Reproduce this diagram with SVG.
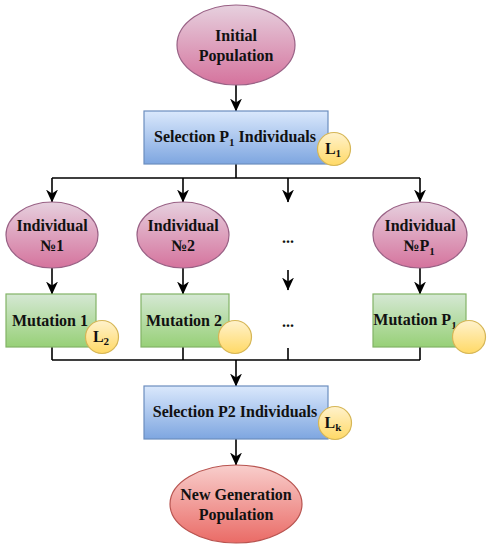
<svg xmlns="http://www.w3.org/2000/svg" width="491" height="550" viewBox="0 0 491 550">
<defs>
<linearGradient id="gPink" x1="0" y1="0" x2="0" y2="1"><stop offset="0" stop-color="#e6d0de"/><stop offset="1" stop-color="#d5739d"/></linearGradient>
<linearGradient id="gBlue" x1="0" y1="0" x2="0" y2="1"><stop offset="0" stop-color="#dae8fc"/><stop offset="1" stop-color="#7ea6e0"/></linearGradient>
<linearGradient id="gGreen" x1="0" y1="0" x2="0" y2="1"><stop offset="0" stop-color="#d5e8d4"/><stop offset="1" stop-color="#97d077"/></linearGradient>
<linearGradient id="gYellow" x1="0" y1="0" x2="0" y2="1"><stop offset="0" stop-color="#fff2cc"/><stop offset="1" stop-color="#ffd966"/></linearGradient>
<linearGradient id="gRed" x1="0" y1="0" x2="0" y2="1"><stop offset="0" stop-color="#f8cecc"/><stop offset="1" stop-color="#ea6b66"/></linearGradient>
<marker id="arr" viewBox="0 0 13 12" refX="12.5" refY="6" markerWidth="13" markerHeight="12" markerUnits="userSpaceOnUse" orient="auto">
<path d="M0,0 L13,6 L0,12 L4,6 Z" fill="#000"/>
</marker>
</defs>
<style>
.pink{fill:url(#gPink);stroke:#996185;stroke-width:1.2}
.blue{fill:url(#gBlue);stroke:#6c8ebf;stroke-width:1.2}
.green{fill:url(#gGreen);stroke:#82b366;stroke-width:1.2}
.yel{fill:url(#gYellow);stroke:#d6b656;stroke-width:1.2}
.red{fill:url(#gRed);stroke:#b85450;stroke-width:1.2}
text{font-family:'Liberation Serif','DejaVu Serif',serif;font-weight:bold;font-size:16px;fill:#111;text-anchor:middle}
.sub{font-size:11px}
.ln{fill:none;stroke:#000;stroke-width:1.6}
.ar{fill:none;stroke:#000;stroke-width:1.6;marker-end:url(#arr)}
</style>
<rect width="491" height="550" fill="#fff"/>
<g id="connectors">
<path class="ar" d="M236,85 V111"/>
<path class="ln" d="M236,164 V178 M52,178 H420"/>
<path class="ar" d="M52,178 V202"/>
<path class="ar" d="M183,178 V202"/>
<path class="ar" d="M288,178 V202"/>
<path class="ar" d="M420,178 V202"/>
<path class="ar" d="M52,268 V294"/>
<path class="ar" d="M183,268 V294"/>
<path class="ar" d="M288,270 V290"/>
<path class="ar" d="M420,268 V294"/>
<path class="ln" d="M52,347 V360 M183,347 V360 M288,348 V360 M420,347 V360 M52,360 H420"/>
<path class="ar" d="M236,360 V386"/>
<path class="ar" d="M236,439 V465"/>
</g>
<g id="initial">
<ellipse class="pink" cx="236" cy="45" rx="59" ry="40"/>
<text x="236" y="41" font-family="Liberation Serif, serif">Initial</text>
<text x="236" y="61" font-family="Liberation Serif, serif">Population</text>
</g>
<g id="selection1">
<rect class="blue" x="144" y="111" width="184" height="53"/>
<text x="235" y="142" font-family="Liberation Serif, serif">Selection P<tspan class="sub" dy="4">1</tspan><tspan dy="-4"> Individuals</tspan></text>
<circle class="yel" cx="334" cy="149" r="16.5"/>
<text x="333" y="154" font-family="Liberation Serif, serif">L<tspan class="sub" dy="3">1</tspan></text>
</g>
<g id="ind1">
<ellipse class="pink" cx="52" cy="235" rx="46" ry="33"/>
<text x="52" y="231" font-family="Liberation Serif, serif">Individual</text>
<text x="52" y="251" font-family="Liberation Serif, serif">№1</text>
</g>
<g id="ind2">
<ellipse class="pink" cx="183" cy="235" rx="46" ry="33"/>
<text x="183" y="231" font-family="Liberation Serif, serif">Individual</text>
<text x="183" y="251" font-family="Liberation Serif, serif">№2</text>
</g>
<g id="dots1"><text x="288" y="243" font-family="Liberation Serif, serif">...</text></g>
<g id="indP1">
<ellipse class="pink" cx="420" cy="235" rx="47" ry="33"/>
<text x="420" y="231" font-family="Liberation Serif, serif">Individual</text>
<text x="419" y="251" font-family="Liberation Serif, serif">№P<tspan class="sub" dy="4">1</tspan></text>
</g>
<g id="mut1">
<rect class="green" x="6" y="294" width="90" height="53"/>
<text x="50" y="326" font-family="Liberation Serif, serif">Mutation 1</text>
<circle class="yel" cx="102" cy="337" r="16.5"/>
<text x="101" y="342" font-family="Liberation Serif, serif">L<tspan class="sub" dy="3">2</tspan></text>
</g>
<g id="mut2">
<rect class="green" x="141" y="294" width="88" height="53"/>
<text x="184" y="326" font-family="Liberation Serif, serif">Mutation 2</text>
<circle class="yel" cx="235" cy="337" r="16.5"/>
</g>
<g id="dots2"><text x="288" y="327" font-family="Liberation Serif, serif">...</text></g>
<g id="mutP1">
<rect class="green" x="373" y="294" width="93" height="53"/>
<text x="415" y="325" font-family="Liberation Serif, serif">Mutation P<tspan class="sub" dy="4">1</tspan></text>
<circle class="yel" cx="469" cy="337" r="16.5"/>
</g>
<g id="selection2">
<rect class="blue" x="144" y="386" width="184" height="53"/>
<text x="235" y="417" font-family="Liberation Serif, serif">Selection P2 Individuals</text>
<circle class="yel" cx="335" cy="423" r="16.5"/>
<text x="333" y="428" font-family="Liberation Serif, serif">L<tspan class="sub" dy="3">k</tspan></text>
</g>
<g id="newgen">
<ellipse class="red" cx="236" cy="504" rx="66" ry="39"/>
<text x="236" y="500" font-family="Liberation Serif, serif">New Generation</text>
<text x="236" y="520" font-family="Liberation Serif, serif">Population</text>
</g>
</svg>
